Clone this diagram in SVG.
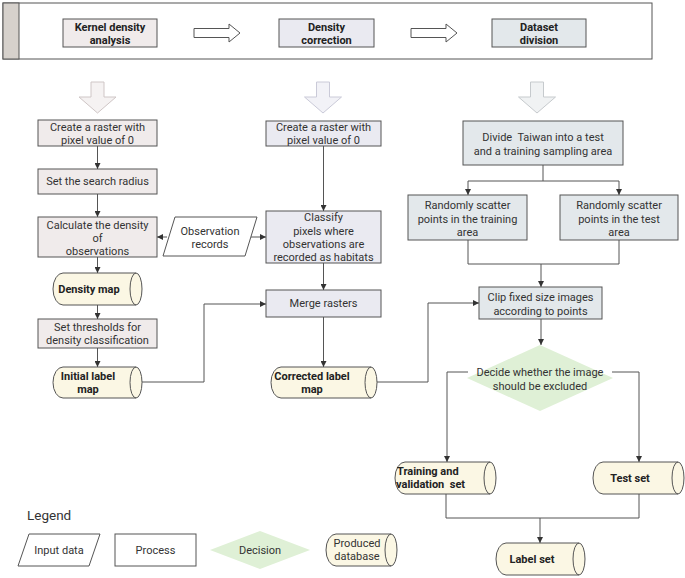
<svg xmlns="http://www.w3.org/2000/svg" width="685" height="578" viewBox="0 0 685 578">
<defs>
<style>
text{font-family:Roboto,"Liberation Sans",sans-serif;font-size:11px;fill:#333;text-anchor:middle}
.b{font-weight:bold;fill:#222}
.st{text-anchor:start}
.pre{white-space:pre}
.box{stroke:#555;stroke-width:1}
.kl{fill:#f0ebeb}
.dc{fill:#eaeaf1}
.dd{fill:#e3e8eb}
.cyl{fill:#fbf7e4;stroke:#555;stroke-width:1}
.inner{fill:none;stroke:#555;stroke-width:1}
.ln{fill:none;stroke:#555;stroke-width:1}
.dec{fill:#dff0d6}
.hol{fill:#fff;stroke:#555;stroke-width:1}
</style>
<marker id="ah" viewBox="0 0 10 10" refX="10" refY="5" markerWidth="6" markerHeight="6" markerUnits="userSpaceOnUse" orient="auto">
<path d="M0,0 L10,5 L0,10 z" fill="#333"/>
</marker>
</defs>

<!-- Banner -->
<g id="banner">
<rect x="3" y="3" width="649" height="56" fill="#fff" stroke="#555"/>
<rect x="3" y="3" width="16" height="56" fill="#d6d1cc" stroke="#555"/>
<polygon class="hol" points="194,28.5 229,28.5 229,24 240,33 229,42 229,37.5 194,37.5"/>
<polygon class="hol" points="411,28.5 446,28.5 446,24 457,33 446,42 446,37.5 411,37.5"/>
</g>
<g id="phase-kernel">
<rect class="box kl" x="63" y="19" width="94" height="28"/>
<text class="b" x="110" y="31">Kernel density</text>
<text class="b" x="110" y="44">analysis</text>
</g>
<g id="phase-correction">
<rect class="box dc" x="279" y="19" width="95" height="28"/>
<text class="b" x="326.5" y="31">Density</text>
<text class="b" x="326.5" y="44">correction</text>
</g>
<g id="phase-division">
<rect class="box dd" x="492" y="19" width="94" height="28"/>
<text class="b" x="539" y="31">Dataset</text>
<text class="b" x="539" y="44">division</text>
</g>

<!-- Down arrows -->
<g id="down-arrows">
<polygon points="91,82 104,82 104,97 116,97 97.5,113 79,97 91,97" fill="#f5f2f2" stroke="#cfc6c6"/>
<polygon points="316.5,82 329.5,82 329.5,97 341.5,97 323,113 304.5,97 316.5,97" fill="#f2f2f7" stroke="#cacad8"/>
<polygon points="530.5,82 543.5,82 543.5,97 555.5,97 537,113 518.5,97 530.5,97" fill="#f0f2f3" stroke="#c6cacd"/>
</g>

<!-- Connectors -->
<g id="connectors">
<path class="ln" d="M97.5,146 V169" marker-end="url(#ah)"/>
<path class="ln" d="M97.5,194 V217" marker-end="url(#ah)"/>
<path class="ln" d="M97.5,257 V273" marker-end="url(#ah)"/>
<path class="ln" d="M97.5,305 V319" marker-end="url(#ah)"/>
<path class="ln" d="M97.5,348 V367" marker-end="url(#ah)"/>
<path class="ln" d="M167,237 H157" marker-end="url(#ah)"/>
<path class="ln" d="M251,237 H266" marker-end="url(#ah)"/>
<path class="ln" d="M323.5,146 V211" marker-end="url(#ah)"/>
<path class="ln" d="M323.5,263 V290" marker-end="url(#ah)"/>
<path class="ln" d="M323.5,317 V367" marker-end="url(#ah)"/>
<path class="ln" d="M142,382 H204 V304 H266" marker-end="url(#ah)"/>
<path class="ln" d="M377,382 H428 V303 H479" marker-end="url(#ah)"/>
<path class="ln" d="M543,165 V181"/>
<path class="ln" d="M468,181 H619"/>
<path class="ln" d="M468,181 V195" marker-end="url(#ah)"/>
<path class="ln" d="M619,181 V195" marker-end="url(#ah)"/>
<path class="ln" d="M468,240 V264 H619 V240"/>
<path class="ln" d="M541,264 V287" marker-end="url(#ah)"/>
<path class="ln" d="M541,319 V345" marker-end="url(#ah)"/>
<path class="ln" d="M468,372 H447 V462" marker-end="url(#ah)"/>
<path class="ln" d="M612,372 H639 V462" marker-end="url(#ah)"/>
<path class="ln" d="M446,494 V518 H639 V494"/>
<path class="ln" d="M540,518 V543" stroke-width="1.6" marker-end="url(#ah)"/>
</g>

<!-- Left column -->
<g id="k-create-raster">
<rect class="box kl" x="38" y="120" width="119" height="26"/>
<text x="97.5" y="130.5">Create a raster with</text>
<text x="97.5" y="143.5">pixel value of 0</text>
</g>
<g id="k-search-radius">
<rect class="box kl" x="38" y="169" width="119" height="25"/>
<text x="97.5" y="185">Set the search radius</text>
</g>
<g id="k-calc-density">
<rect class="box kl" x="38" y="217" width="119" height="40"/>
<text x="97.5" y="228.5">Calculate the density</text>
<text x="97.5" y="241.5">of</text>
<text x="97.5" y="254.5">observations</text>
</g>
<g id="obs-records">
<polygon class="box" fill="#fff" points="175,217 257,217 245,256 163,256"/>
<text x="210" y="235">Observation</text>
<text x="210" y="248">records</text>
</g>
<g id="density-map">
<path class="cyl" d="M63,273 H136 A6,16 0 0 1 136,305 H63 A10,16 0 0 1 63,273 Z"/>
<path class="inner" d="M136,273 A6,16 0 0 0 136,305"/>
<text class="b" x="89" y="293">Density map</text>
</g>
<g id="k-thresholds">
<rect class="box kl" x="38" y="319" width="119" height="29"/>
<text x="97.5" y="331">Set thresholds for</text>
<text x="97.5" y="344">density classification</text>
</g>
<g id="initial-label-map">
<path class="cyl" d="M63,367 H136 A6,15.5 0 0 1 136,398 H63 A10,15.5 0 0 1 63,367 Z"/>
<path class="inner" d="M136,367 A6,15.5 0 0 0 136,398"/>
<text class="b" x="88" y="380">Initial label</text>
<text class="b" x="88" y="393">map</text>
</g>

<!-- Middle column -->
<g id="c-create-raster">
<rect class="box dc" x="266" y="121" width="115" height="25"/>
<text x="323.5" y="131">Create a raster with</text>
<text x="323.5" y="144">pixel value of 0</text>
</g>
<g id="c-classify">
<rect class="box dc" x="266" y="211" width="115" height="52"/>
<text x="323.5" y="221">Classify</text>
<text x="323.5" y="234.5">pixels where</text>
<text x="323.5" y="248">observations are</text>
<text x="323.5" y="261">recorded as habitats</text>
</g>
<g id="c-merge">
<rect class="box dc" x="266" y="290" width="115" height="27"/>
<text x="323.5" y="307">Merge rasters</text>
</g>
<g id="corrected-label-map">
<path class="cyl" d="M281,367 H371 A6,15.5 0 0 1 371,398 H281 A10,15.5 0 0 1 281,367 Z"/>
<path class="inner" d="M371,367 A6,15.5 0 0 0 371,398"/>
<text class="b" x="312" y="380">Corrected label</text>
<text class="b" x="312" y="393">map</text>
</g>

<!-- Right column -->
<g id="d-divide">
<rect class="box dd" x="463" y="121" width="160" height="44"/>
<text class="pre" x="543" y="141">Divide  Taiwan into a test</text>
<text x="543" y="155">and a training sampling area</text>
</g>
<g id="d-scatter-train">
<rect class="box dd" x="408" y="195" width="119" height="45"/>
<text x="467.5" y="209">Randomly scatter</text>
<text x="467.5" y="223">points in the training</text>
<text x="467.5" y="236">area</text>
</g>
<g id="d-scatter-test">
<rect class="box dd" x="560" y="195" width="118" height="45"/>
<text x="619" y="209">Randomly scatter</text>
<text x="619" y="223">points in the test</text>
<text x="619" y="236">area</text>
</g>
<g id="d-clip">
<rect class="box dd" x="479" y="287" width="123" height="32"/>
<text x="540.5" y="301">Clip fixed size images</text>
<text x="540.5" y="315">according to points</text>
</g>
<g id="d-decide">
<polygon class="dec" points="540,345 613,378 540,411 467,378"/>
<text x="540" y="376">Decide whether the image</text>
<text x="540" y="390">should be excluded</text>
</g>
<g id="train-val-set">
<path class="cyl" d="M405,462 H490 A6,16 0 0 1 490,494 H405 A10,16 0 0 1 405,462 Z"/>
<path class="inner" d="M490,462 A6,16 0 0 0 490,494"/>
<text class="b st" x="397" y="475">Training and</text>
<text class="b st pre" x="396" y="488">validation  set</text>
</g>
<g id="test-set">
<path class="cyl" d="M603,462 H678 A6,16 0 0 1 678,494 H603 A10,16 0 0 1 603,462 Z"/>
<path class="inner" d="M678,462 A6,16 0 0 0 678,494"/>
<text class="b" x="630" y="482">Test set</text>
</g>
<g id="label-set">
<path class="cyl" d="M506,543 H579 A6,16 0 0 1 579,575 H506 A10,16 0 0 1 506,543 Z"/>
<path class="inner" d="M579,543 A6,16 0 0 0 579,575"/>
<text class="b" x="532" y="563">Label set</text>
</g>

<!-- Legend -->
<g id="legend">
<text class="st" x="27" y="520" style="font-size:13.5px">Legend</text>
<polygon class="box" fill="#fff" points="29,534 100,534 89,566 18,566"/>
<text x="59" y="554">Input data</text>
<rect class="box" fill="#fff" x="115" y="534" width="81" height="32"/>
<text x="155.5" y="554">Process</text>
<polygon class="dec" points="260,531 310,550 260,569 210,550"/>
<text x="260" y="554">Decision</text>
<path class="cyl" d="M336,534 H391 A6,16 0 0 1 391,566 H336 A10,16 0 0 1 336,534 Z"/>
<path class="inner" d="M391,534 A6,16 0 0 0 391,566"/>
<text x="357" y="547">Produced</text>
<text x="357" y="560">database</text>
</g>
</svg>
